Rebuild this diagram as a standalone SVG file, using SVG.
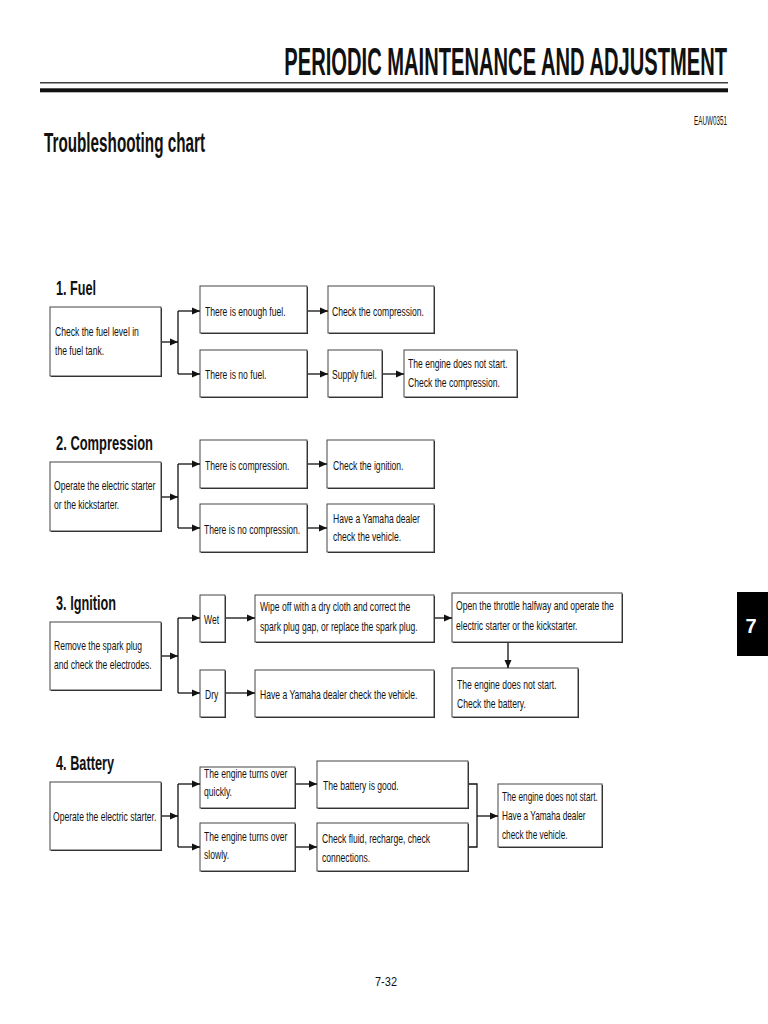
<svg xmlns="http://www.w3.org/2000/svg" width="768" height="1024" viewBox="0 0 768 1024">
<defs>
<marker id="ah" markerUnits="userSpaceOnUse" markerWidth="9" markerHeight="8" refX="8" refY="4" orient="auto">
<path d="M0,0.5 L8,4 L0,7.5 z" fill="#111"/>
</marker>
</defs>
<style>
.bg{fill:#fff}
.sh{fill:#222}
.bx{fill:#fff;stroke:#444;stroke-width:1}
.t{font-family:"Liberation Sans",Arial,sans-serif;font-size:13px;fill:#111}
.h{font-family:"Liberation Sans",Arial,sans-serif;font-size:21px;font-weight:bold;fill:#111}
.ttl{font-family:"Liberation Sans",Arial,sans-serif;font-weight:bold;fill:#111}
.c{fill:none;stroke:#111;stroke-width:1.3}
.ca{fill:none;stroke:#111;stroke-width:1.3;marker-end:url(#ah)}
</style>
<rect class="bg" x="0" y="0" width="768" height="1024"/>

<g id="header">
<text class="ttl" transform="translate(727,75) scale(0.53,1)" x="0" y="0" font-size="38" text-anchor="end">PERIODIC MAINTENANCE AND ADJUSTMENT</text>
<rect x="40" y="82.2" width="688" height="1.2" fill="#111"/>
<rect x="40" y="88.3" width="688" height="4" fill="#111"/>
<text class="t" x="694" y="125" font-size="10" textLength="33" lengthAdjust="spacingAndGlyphs">EAUW0351</text>
<text class="ttl" x="44" y="152" font-size="27" textLength="161" lengthAdjust="spacingAndGlyphs">Troubleshooting chart</text>
</g>

<g id="headings">
<text class="h" x="56" y="295" textLength="40" lengthAdjust="spacingAndGlyphs">1. Fuel</text>
<text class="h" x="56" y="450" textLength="97" lengthAdjust="spacingAndGlyphs">2. Compression</text>
<text class="h" x="56" y="610" textLength="60" lengthAdjust="spacingAndGlyphs">3. Ignition</text>
<text class="h" x="56" y="770" textLength="58" lengthAdjust="spacingAndGlyphs">4. Battery</text>
</g>

<!-- FUEL -->
<g id="f0"><rect class="sh" x="51" y="308" width="111" height="69"/><rect class="bx" x="50" y="307" width="111" height="69"/>
<text class="t" transform="translate(55,0) scale(0.66,1)"><tspan x="0" y="336">Check the fuel level in</tspan><tspan x="0" y="355">the fuel tank.</tspan></text></g>
<g id="f1"><rect class="sh" x="201" y="287" width="107" height="47"/><rect class="bx" x="200" y="286" width="107" height="47"/>
<text class="t" transform="translate(205,0) scale(0.66,1)"><tspan x="0" y="316">There is enough fuel.</tspan></text></g>
<g id="f2"><rect class="sh" x="201" y="351" width="107" height="47"/><rect class="bx" x="200" y="350" width="107" height="47"/>
<text class="t" transform="translate(205,0) scale(0.66,1)"><tspan x="0" y="379">There is no fuel.</tspan></text></g>
<g id="f3"><rect class="sh" x="329" y="287" width="106" height="47"/><rect class="bx" x="328" y="286" width="106" height="47"/>
<text class="t" transform="translate(332,0) scale(0.66,1)"><tspan x="0" y="316">Check the compression.</tspan></text></g>
<g id="f4"><rect class="sh" x="329" y="351" width="54" height="47"/><rect class="bx" x="328" y="350" width="54" height="47"/>
<text class="t" transform="translate(332,0) scale(0.66,1)"><tspan x="0" y="379">Supply fuel.</tspan></text></g>
<g id="f5"><rect class="sh" x="405" y="351" width="113" height="47"/><rect class="bx" x="404" y="350" width="113" height="47"/>
<text class="t" transform="translate(408,0) scale(0.66,1)"><tspan x="0" y="368">The engine does not start.</tspan><tspan x="0" y="387">Check the compression.</tspan></text></g>

<!-- COMPRESSION -->
<g id="c0"><rect class="sh" x="51" y="463" width="111" height="69"/><rect class="bx" x="50" y="462" width="111" height="69"/>
<text class="t" transform="translate(54,0) scale(0.66,1)"><tspan x="0" y="490">Operate the electric starter</tspan><tspan x="0" y="509">or the kickstarter.</tspan></text></g>
<g id="c1"><rect class="sh" x="201" y="441" width="107" height="48"/><rect class="bx" x="200" y="440" width="107" height="48"/>
<text class="t" transform="translate(205,0) scale(0.66,1)"><tspan x="0" y="470">There is compression.</tspan></text></g>
<g id="c2"><rect class="sh" x="201" y="505" width="107" height="48"/><rect class="bx" x="200" y="504" width="107" height="48"/>
<text class="t" transform="translate(204,0) scale(0.66,1)"><tspan x="0" y="534">There is no compression.</tspan></text></g>
<g id="c3"><rect class="sh" x="328" y="441" width="107" height="48"/><rect class="bx" x="327" y="440" width="107" height="48"/>
<text class="t" transform="translate(333,0) scale(0.66,1)"><tspan x="0" y="470">Check the ignition.</tspan></text></g>
<g id="c4"><rect class="sh" x="328" y="505" width="107" height="48"/><rect class="bx" x="327" y="504" width="107" height="48"/>
<text class="t" transform="translate(333,0) scale(0.66,1)"><tspan x="0" y="523">Have a Yamaha dealer</tspan><tspan x="0" y="541">check the vehicle.</tspan></text></g>

<!-- IGNITION -->
<g id="i0"><rect class="sh" x="51" y="623" width="111" height="68"/><rect class="bx" x="50" y="622" width="111" height="68"/>
<text class="t" transform="translate(54,0) scale(0.66,1)"><tspan x="0" y="650">Remove the spark plug</tspan><tspan x="0" y="669">and check the electrodes.</tspan></text></g>
<g id="iwet"><rect class="sh" x="201" y="596" width="25" height="47"/><rect class="bx" x="200" y="595" width="25" height="47"/>
<text class="t" transform="translate(204,0) scale(0.66,1)"><tspan x="0" y="624">Wet</tspan></text></g>
<g id="idry"><rect class="sh" x="201" y="671" width="25" height="47"/><rect class="bx" x="200" y="670" width="25" height="47"/>
<text class="t" transform="translate(205,0) scale(0.66,1)"><tspan x="0" y="699">Dry</tspan></text></g>
<g id="iwipe"><rect class="sh" x="256" y="596" width="179" height="47"/><rect class="bx" x="255" y="595" width="179" height="47"/>
<text class="t" transform="translate(260,0) scale(0.66,1)"><tspan x="0" y="611">Wipe off with a dry cloth and correct the</tspan><tspan x="0" y="631">spark plug gap, or replace the spark plug.</tspan></text></g>
<g id="idealer"><rect class="sh" x="256" y="671" width="179" height="47"/><rect class="bx" x="255" y="670" width="179" height="47"/>
<text class="t" transform="translate(260,0) scale(0.66,1)"><tspan x="0" y="699">Have a Yamaha dealer check the vehicle.</tspan></text></g>
<g id="ithrottle"><rect class="sh" x="453" y="594" width="170" height="49"/><rect class="bx" x="452" y="593" width="170" height="49"/>
<text class="t" transform="translate(456,0) scale(0.66,1)"><tspan x="0" y="610">Open the throttle halfway and operate the</tspan><tspan x="0" y="630">electric starter or the kickstarter.</tspan></text></g>
<g id="ibattery"><rect class="sh" x="453" y="669" width="126" height="49"/><rect class="bx" x="452" y="668" width="126" height="49"/>
<text class="t" transform="translate(457,0) scale(0.66,1)"><tspan x="0" y="689">The engine does not start.</tspan><tspan x="0" y="708">Check the battery.</tspan></text></g>

<!-- BATTERY -->
<g id="b0"><rect class="sh" x="51" y="783" width="111" height="68"/><rect class="bx" x="50" y="782" width="111" height="68"/>
<text class="t" transform="translate(53,0) scale(0.66,1)"><tspan x="0" y="821">Operate the electric starter.</tspan></text></g>
<g id="b1"><rect class="sh" x="201" y="768" width="95" height="41"/><rect class="bx" x="200" y="767" width="95" height="41"/>
<text class="t" transform="translate(204,0) scale(0.66,1)"><tspan x="0" y="778">The engine turns over</tspan><tspan x="0" y="796">quickly.</tspan></text></g>
<g id="b2"><rect class="sh" x="201" y="824" width="95" height="48"/><rect class="bx" x="200" y="823" width="95" height="48"/>
<text class="t" transform="translate(204,0) scale(0.66,1)"><tspan x="0" y="841">The engine turns over</tspan><tspan x="0" y="859">slowly.</tspan></text></g>
<g id="b3"><rect class="sh" x="318" y="762" width="151" height="47"/><rect class="bx" x="317" y="761" width="151" height="47"/>
<text class="t" transform="translate(323,0) scale(0.66,1)"><tspan x="0" y="790">The battery is good.</tspan></text></g>
<g id="b4"><rect class="sh" x="318" y="824" width="151" height="48"/><rect class="bx" x="317" y="823" width="151" height="48"/>
<text class="t" transform="translate(322,0) scale(0.66,1)"><tspan x="0" y="843">Check fluid, recharge, check</tspan><tspan x="0" y="862">connections.</tspan></text></g>
<g id="b5"><rect class="sh" x="499" y="785" width="104" height="63"/><rect class="bx" x="498" y="784" width="104" height="63"/>
<text class="t" transform="translate(502,0) scale(0.635,1)"><tspan x="0" y="801">The engine does not start.</tspan><tspan x="0" y="820">Have a Yamaha dealer</tspan><tspan x="0" y="839">check the vehicle.</tspan></text></g>

<g id="connectors">
<!-- fuel -->
<path class="ca" d="M162,342 H178"/>
<path class="c" d="M178,311 V374"/>
<path class="ca" d="M178,311 H200"/>
<path class="ca" d="M178,374 H200"/>
<path class="ca" d="M308,311 H328"/>
<path class="ca" d="M308,374 H328"/>
<path class="ca" d="M383,374 H404"/>
<!-- compression -->
<path class="ca" d="M162,497 H178"/>
<path class="c" d="M178,464 V528"/>
<path class="ca" d="M178,464 H200"/>
<path class="ca" d="M178,528 H200"/>
<path class="ca" d="M308,464 H327"/>
<path class="ca" d="M308,528 H327"/>
<!-- ignition -->
<path class="ca" d="M162,656 H178"/>
<path class="c" d="M178,618 V693"/>
<path class="ca" d="M178,618 H200"/>
<path class="ca" d="M178,693 H200"/>
<path class="ca" d="M226,618 H255"/>
<path class="ca" d="M226,693 H255"/>
<path class="ca" d="M435,618 H452"/>
<path class="ca" d="M508,643 V668"/>
<!-- battery -->
<path class="ca" d="M162,816 H178"/>
<path class="c" d="M178,784 V847"/>
<path class="ca" d="M178,784 H200"/>
<path class="ca" d="M178,847 H200"/>
<path class="ca" d="M296,784 H317"/>
<path class="ca" d="M296,847 H317"/>
<path class="c" d="M469,784 H477 V847 H469"/>
<path class="ca" d="M477,816 H498"/>
</g>

<g id="tab">
<rect x="737" y="592" width="31" height="64" fill="#000"/>
<text x="751" y="633" font-family="'Liberation Sans',Arial,sans-serif" font-size="20" font-weight="bold" fill="#fff" text-anchor="middle">7</text>
</g>

<g id="footer">
<text class="t" x="375" y="986" font-size="17" textLength="22" lengthAdjust="spacingAndGlyphs">7-32</text>
</g>
</svg>
